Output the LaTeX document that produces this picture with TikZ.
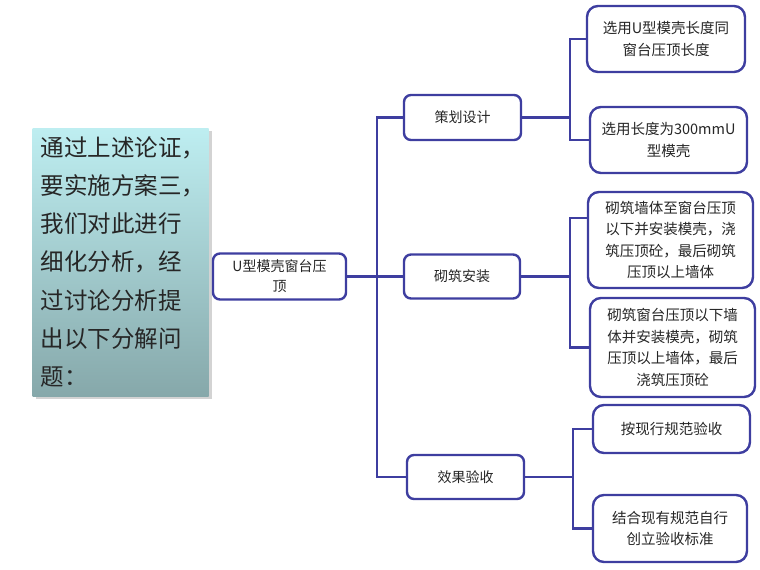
\documentclass[tikz,border=0pt]{standalone}
\usepackage{fontspec}
\newfontfamily\cjk{Noto Sans CJK SC}
\usetikzlibrary{shadows}
\definecolor{linkblue}{RGB}{62,62,160}
\definecolor{notetop}{RGB}{190,238,241}
\definecolor{notebot}{RGB}{134,168,170}
\definecolor{txtgray}{RGB}{38,38,38}
\begin{document}
\begin{tikzpicture}[x=1pt,y=-1pt,
  box/.style={draw=linkblue,line width=2.4pt,rounded corners=7pt,fill=white,
    align=center,text=txtgray,inner sep=2pt,
    font=\cjk\fontsize{14}{20}\selectfont},
  leaf/.style={box,rounded corners=11pt,font=\cjk\fontsize{14.5}{21.5}\selectfont},
  note/.style={top color=notetop,bottom color=notebot,
    drop shadow={shadow xshift=3pt,shadow yshift=-3pt,opacity=0.35},
    minimum width=175,minimum height=268,text width=160,align=left,
    inner xsep=8pt,text=black!85,font=\cjk\fontsize{23.5}{38.3}\selectfont},
  link/.style={draw=linkblue,line width=2.4pt}]
\useasboundingbox (0,0) rectangle (760,570);

% left text panel
\node[note] (note) at (120.5,262) {通过上述论证，\\要实施方案三，\\我们对此进行\\细化分析，经\\过讨论分析提\\出以下分解问\\题：};

% root and first level
\node[box,minimum width=133,minimum height=46] (root) at (279.5,276.5) {U型模壳窗台压\\顶};
\node[box,minimum width=117,minimum height=45] (plan) at (462.5,117.5) {策划设计};
\node[box,minimum width=116,minimum height=44] (build) at (462,276.5) {砌筑安装};
\node[box,minimum width=117,minimum height=44] (check) at (465.5,477) {效果验收};

% second level
\node[leaf,minimum width=158,minimum height=66] (sizeA) at (666,39) {选用U型模壳长度同\\窗台压顶长度};
\node[leaf,minimum width=157,minimum height=66] (sizeB) at (668.5,140) {选用长度为300mmU\\型模壳};
\node[leaf,minimum width=165,minimum height=96] (wallA) at (670.5,240) {砌筑墙体至窗台压顶\\以下并安装模壳，浇\\筑压顶砼，最后砌筑\\压顶以上墙体};
\node[leaf,minimum width=165,minimum height=99] (wallB) at (672.5,347.5) {砌筑窗台压顶以下墙\\体并安装模壳，砌筑\\压顶以上墙体，最后\\浇筑压顶砼};
\node[leaf,minimum width=157,minimum height=48] (accA) at (671.5,429) {按现行规范验收};
\node[leaf,minimum width=154,minimum height=67] (accB) at (670,528.5) {结合现有规范自行\\创立验收标准};

% connectors
\draw[link] (root.east) -- (build.west);
\draw[link] (plan.west) -- ++(-26,0) |- (check.west);

\draw[link] (plan.east) -- ++(48,0) coordinate (pj);
\draw[link] (sizeA.west) -| (pj) |- (sizeB.west);

\draw[link] (build.east) -- ++(49,0) coordinate (bj);
\draw[link] ([yshift=22pt]wallA.west) -| (bj) |- (wallB.west);

\draw[link] (check.east) -- ++(48,0) coordinate (cj);
\draw[link] (accA.west) -| (cj) |- (accB.west);
\end{tikzpicture}
\end{document}
